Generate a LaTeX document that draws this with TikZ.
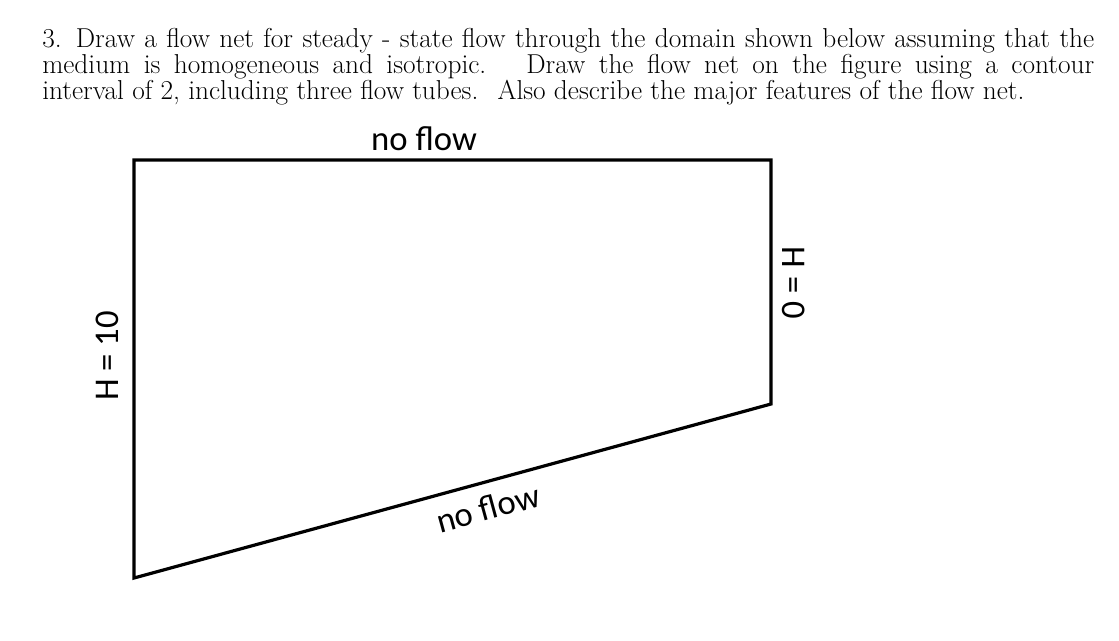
\documentclass[tikz,border=0pt]{standalone}
\usepackage{fontspec}
\newfontfamily\carfont{Carlito}
\begin{document}
\begin{tikzpicture}[x=0.75pt,y=-0.75pt]
\useasboundingbox (0,0) rectangle (1119,640);
\tikzset{lbl/.style={font=\carfont\fontsize{26}{28}\selectfont,inner sep=0pt}}
\node[anchor=north west,inner sep=0pt,text width=789pt,align=justify] (q) at (42,28)
 {\fontsize{20.5}{22.5}\selectfont\hangindent=23pt\hangafter=1 3. Draw a flow net for steady - state flow through the domain shown below assuming that the\linebreak medium is homogeneous and isotropic. \ Draw the flow net on the figure using a contour\linebreak interval of 2, including three flow tubes. \ Also describe the major features of the flow net.};
\draw[line width=2.4pt,line join=miter] (134,160) -- (771,160) -- (771,404) -- (134,578) -- cycle;
\node[lbl] (t) at (424,139) {no flow};
\node[lbl,rotate=90] (l) at (107,356) {H = 10};
\node[lbl,rotate=-90] (r) at (794,283) {H = 0};
\node[lbl,rotate=15.3] (b) at (488,508) {no flow};
\end{tikzpicture}
\end{document}
